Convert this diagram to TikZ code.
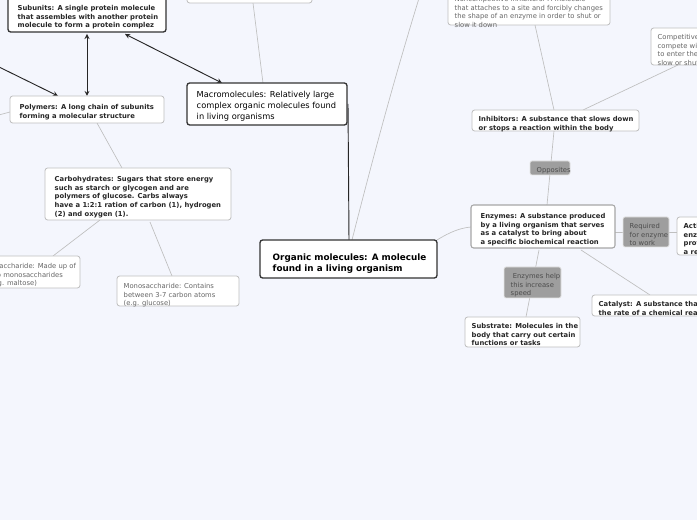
\documentclass[tikz,border=0pt]{standalone}
\usepackage{fontspec}
\setmainfont{DejaVu Sans}
\begin{document}
\begin{tikzpicture}[x=0.75pt,y=-0.75pt,
  box/.style={draw=black!25,rounded corners=2pt,fill=white,line width=0.6pt},
  main/.style={draw=black!80,rounded corners=2pt,fill=white,line width=1pt},
  grayb/.style={draw=black!10,rounded corners=1.5pt,fill=black!38,line width=0.5pt},
  bt/.style={font=\fontsize{5.1}{6.4}\selectfont\bfseries,text=black!85,align=left,anchor=north west},
  nt/.style={font=\fontsize{5.1}{6.4}\selectfont,text=black!60,align=left,anchor=north west},
  mt/.style={font=\fontsize{6.2}{8}\selectfont,text=black,align=left,anchor=north west},
  ln/.style={draw=black!25,line width=0.5pt},
  dk/.style={draw=black!85,line width=0.7pt},
  arr/.style={dk,<->,>=stealth}]
\fill[fill={rgb,255:red,244;green,246;blue,253}] (0,0) rectangle (697,520);
\useasboundingbox (0,0) rectangle (697,520);
\clip (0,0) rectangle (697,520);
% connectors
\draw[ln] (352,240) .. controls (380,130) and (400,60) .. (420,-5);
\draw[dk] (348,104) -- (349,240);
\draw[ln] (437,240) .. controls (450,232) and (460,228) .. (471,227);
\draw[ln] (263,83) -- (253,3);
\draw[arr] (222,83) -- (125,34);
\draw[arr] (87,34) -- (87,96);
\draw[dk,->,>=stealth] (-5,65) -- (58,96);
\draw[ln] (10,112) -- (-5,116);
\draw[ln] (97,123) -- (122,168);
\draw[ln] (100,220) -- (53,256);
\draw[ln] (150,222) -- (172,276);
\draw[ln] (554,110) -- (535,25);
\draw[ln] (583,110) -- (678,65);
\draw[ln] (554,131) -- (547,205);
\draw[ln] (615,232) -- (677,232);
\draw[ln] (539,250) -- (526,317);
\draw[ln] (581,250) -- (650,295);
% boxes
\draw[box] (187,-10) rectangle (312,3);
\node[nt] at (192,-10) {molecule};
\draw[main] (8,-8) rectangle (166,32);
\node[bt] (sub) at (13,1) {Subunits: A single protein molecule\\that assembles with another protein\\molecule to form a protein complez};
\draw[box] (10,96) rectangle (164,123);
\node[bt] (pol) at (15,100) {Polymers: A long chain of subunits\\forming a molecular structure};
\draw[main] (187,83) rectangle (347,125);
\node[mt] (mac) at (192,87) {Macromolecules: Relatively large\\complex organic molecules found\\in living organisms};
\draw[main] (260,240) rectangle (437,278);
\node[mt,font=\fontsize{6.6}{8.2}\selectfont\bfseries] (org) at (268,249) {Organic molecules: A molecule\\found in a living organism};
\draw[box] (45,168) rectangle (231,220);
\node[bt] (carb) at (50,172) {Carbohydrates: Sugars that store energy\\such as starch or glycogen and are\\polymers of glucose. Carbs always\\have a 1:2:1 ration of carbon (1), hydrogen\\(2) and oxygen (1).};
\draw[box] (-40,256) rectangle (80,288);
\node[nt] (dis) at (-16,259) {Disaccharide: Made up of\\two monosaccharides\\(e.g. maltose)};
\draw[box] (117,276) rectangle (239,306);
\node[nt] (mono) at (119,279) {Monosaccharide: Contains\\between 3-7 carbon atoms\\(e.g. glucose)};
\draw[box] (448,-12) rectangle (610,25);
\node[nt] (non) at (450,-8) {Noncompetitive inhibitors: A molecule\\that attaches to a site and forcibly changes\\the shape of an enzyme in order to shut or\\slow it down};
\draw[box] (651,28) rectangle (720,65);
\node[nt] (comp) at (653,30) {Competitive inhibitors:\\compete with substrates\\to enter the active site to\\slow or shut it down};
\draw[box] (472,110) rectangle (639,131);
\node[bt] (inh) at (474,112) {Inhibitors: A substance that slows down\\or stops a reaction within the body};
\draw[grayb] (530,161) rectangle (570,175);
\node[nt,text=black!70] (opp) at (532,163) {Opposites};
\draw[box,line width=0.8pt,draw=black!35] (471,205) rectangle (615,248);
\node[bt] (enz) at (476,209) {Enzymes: A substance produced\\by a living organism that serves\\as a catalyst to bring about\\a specific biochemical reaction};
\draw[grayb] (623,217) rectangle (669,247);
\node[nt,text=black!70] (req) at (625,219) {Required\\for enzyme\\to work};
\draw[box] (677,217) rectangle (720,255);
\node[bt] (act) at (679,219) {Activators: Molecules\\enzymes to increase\\protein activity for\\a reaction};
\draw[grayb] (504,267) rectangle (561,298);
\node[nt,text=black!70] (help) at (506,269) {\ Enzymes help\\this increase\\speed};
\draw[box] (465,317) rectangle (580,347);
\node[bt] (subs) at (467,319) {Substrate: Molecules in the\\body that carry out certain\\functions or tasks};
\draw[box] (592,295) rectangle (720,316);
\node[bt] (cat) at (594,297) {Catalyst: A substance that increases\\the rate of a chemical reaction};
\end{tikzpicture}
\end{document}
